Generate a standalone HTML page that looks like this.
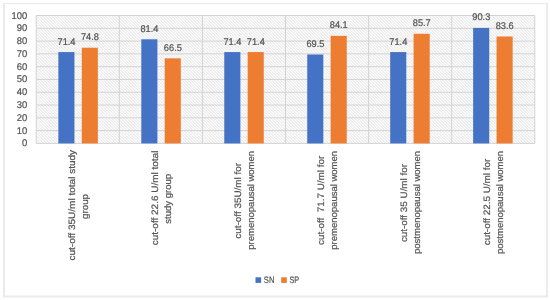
<!DOCTYPE html>
<html lang="en"><head><meta charset="utf-8"><title>Sensitivity and specificity by cut-off</title>
<style>html,body{margin:0;padding:0;background:#fff;}body{width:550px;height:300px;overflow:hidden;}svg{display:block;}text{font-family:"Liberation Sans",sans-serif;fill:#555555;stroke:#555555;stroke-width:0.22px;text-rendering:geometricPrecision;}</style></head><body>
<svg width="550" height="300" viewBox="0 0 550 300">
<defs><pattern id="hatch" patternUnits="userSpaceOnUse" x="36.50" y="16.00" width="3" height="3"><path d="M-1 -1L4 4M-4 -1L1 4M2 -1L7 4" stroke="#DEDEDE" stroke-width="1.0" fill="none"/></pattern></defs>
<rect x="0" y="0" width="550" height="300" fill="#fff"/>
<path d="M3 2.9H548V297.6H3ZM5 4.1V295.6H546.2V4.1Z" fill="#EAEAEA" fill-rule="evenodd"/>
<rect x="36.20" y="15.50" width="498.60" height="127.90" fill="url(#hatch)"/>
<line x1="36.20" x2="534.80" y1="143.40" y2="143.40" stroke="#D3D3D3" stroke-width="1.0"/>
<line x1="36.20" x2="534.80" y1="130.61" y2="130.61" stroke="#D3D3D3" stroke-width="1.0"/>
<line x1="36.20" x2="534.80" y1="117.82" y2="117.82" stroke="#D3D3D3" stroke-width="1.0"/>
<line x1="36.20" x2="534.80" y1="105.03" y2="105.03" stroke="#D3D3D3" stroke-width="1.0"/>
<line x1="36.20" x2="534.80" y1="92.24" y2="92.24" stroke="#D3D3D3" stroke-width="1.0"/>
<line x1="36.20" x2="534.80" y1="79.45" y2="79.45" stroke="#D3D3D3" stroke-width="1.0"/>
<line x1="36.20" x2="534.80" y1="66.66" y2="66.66" stroke="#D3D3D3" stroke-width="1.0"/>
<line x1="36.20" x2="534.80" y1="53.87" y2="53.87" stroke="#D3D3D3" stroke-width="1.0"/>
<line x1="36.20" x2="534.80" y1="41.08" y2="41.08" stroke="#D3D3D3" stroke-width="1.0"/>
<line x1="36.20" x2="534.80" y1="28.29" y2="28.29" stroke="#D3D3D3" stroke-width="1.0"/>
<line x1="36.20" x2="534.80" y1="15.50" y2="15.50" stroke="#D3D3D3" stroke-width="1.0"/>
<line x1="36.20" x2="36.20" y1="15.50" y2="143.40" stroke="#D3D3D3" stroke-width="1.0"/>
<line x1="119.30" x2="119.30" y1="15.50" y2="143.40" stroke="#D3D3D3" stroke-width="1.0"/>
<line x1="202.40" x2="202.40" y1="15.50" y2="143.40" stroke="#D3D3D3" stroke-width="1.0"/>
<line x1="285.50" x2="285.50" y1="15.50" y2="143.40" stroke="#D3D3D3" stroke-width="1.0"/>
<line x1="368.60" x2="368.60" y1="15.50" y2="143.40" stroke="#D3D3D3" stroke-width="1.0"/>
<line x1="451.70" x2="451.70" y1="15.50" y2="143.40" stroke="#D3D3D3" stroke-width="1.0"/>
<line x1="534.80" x2="534.80" y1="15.50" y2="143.40" stroke="#D3D3D3" stroke-width="1.0"/>
<text x="27.3" y="146.40" font-size="9.7" text-anchor="end" textLength="5.3" lengthAdjust="spacingAndGlyphs">0</text>
<text x="27.3" y="133.61" font-size="9.7" text-anchor="end" textLength="10.5" lengthAdjust="spacingAndGlyphs">10</text>
<text x="27.3" y="120.82" font-size="9.7" text-anchor="end" textLength="10.5" lengthAdjust="spacingAndGlyphs">20</text>
<text x="27.3" y="108.03" font-size="9.7" text-anchor="end" textLength="10.5" lengthAdjust="spacingAndGlyphs">30</text>
<text x="27.3" y="95.24" font-size="9.7" text-anchor="end" textLength="10.5" lengthAdjust="spacingAndGlyphs">40</text>
<text x="27.3" y="82.45" font-size="9.7" text-anchor="end" textLength="10.5" lengthAdjust="spacingAndGlyphs">50</text>
<text x="27.3" y="69.66" font-size="9.7" text-anchor="end" textLength="10.5" lengthAdjust="spacingAndGlyphs">60</text>
<text x="27.3" y="56.87" font-size="9.7" text-anchor="end" textLength="10.5" lengthAdjust="spacingAndGlyphs">70</text>
<text x="27.3" y="44.08" font-size="9.7" text-anchor="end" textLength="10.5" lengthAdjust="spacingAndGlyphs">80</text>
<text x="27.3" y="31.29" font-size="9.7" text-anchor="end" textLength="10.5" lengthAdjust="spacingAndGlyphs">90</text>
<text x="27.3" y="18.50" font-size="9.7" text-anchor="end" textLength="15.7" lengthAdjust="spacingAndGlyphs">100</text>
<rect x="58.35" y="52.08" width="16.10" height="91.32" fill="#4472C4"/>
<rect x="81.75" y="47.73" width="16.10" height="95.67" fill="#ED7D31"/>
<text x="66.50" y="44.58" font-size="9.7" text-anchor="middle" textLength="18.0" lengthAdjust="spacingAndGlyphs">71.4</text>
<text x="89.90" y="40.23" font-size="9.7" text-anchor="middle" textLength="18.0" lengthAdjust="spacingAndGlyphs">74.8</text>
<rect x="141.31" y="39.29" width="16.10" height="104.11" fill="#4472C4"/>
<rect x="164.71" y="58.35" width="16.10" height="85.05" fill="#ED7D31"/>
<text x="149.46" y="31.79" font-size="9.7" text-anchor="middle" textLength="18.0" lengthAdjust="spacingAndGlyphs">81.4</text>
<text x="172.86" y="50.85" font-size="9.7" text-anchor="middle" textLength="18.0" lengthAdjust="spacingAndGlyphs">66.5</text>
<rect x="224.27" y="52.08" width="16.10" height="91.32" fill="#4472C4"/>
<rect x="247.67" y="52.08" width="16.10" height="91.32" fill="#ED7D31"/>
<text x="232.42" y="44.58" font-size="9.7" text-anchor="middle" textLength="18.0" lengthAdjust="spacingAndGlyphs">71.4</text>
<text x="255.82" y="44.58" font-size="9.7" text-anchor="middle" textLength="18.0" lengthAdjust="spacingAndGlyphs">71.4</text>
<rect x="307.23" y="54.51" width="16.10" height="88.89" fill="#4472C4"/>
<rect x="330.63" y="35.84" width="16.10" height="107.56" fill="#ED7D31"/>
<text x="315.38" y="47.01" font-size="9.7" text-anchor="middle" textLength="18.0" lengthAdjust="spacingAndGlyphs">69.5</text>
<text x="338.78" y="28.34" font-size="9.7" text-anchor="middle" textLength="18.0" lengthAdjust="spacingAndGlyphs">84.1</text>
<rect x="390.19" y="52.08" width="16.10" height="91.32" fill="#4472C4"/>
<rect x="413.59" y="33.79" width="16.10" height="109.61" fill="#ED7D31"/>
<text x="398.34" y="44.58" font-size="9.7" text-anchor="middle" textLength="18.0" lengthAdjust="spacingAndGlyphs">71.4</text>
<text x="421.74" y="26.29" font-size="9.7" text-anchor="middle" textLength="18.0" lengthAdjust="spacingAndGlyphs">85.7</text>
<rect x="473.15" y="27.91" width="16.10" height="115.49" fill="#4472C4"/>
<rect x="496.55" y="36.48" width="16.10" height="106.92" fill="#ED7D31"/>
<text x="481.30" y="20.41" font-size="9.7" text-anchor="middle" textLength="18.0" lengthAdjust="spacingAndGlyphs">90.3</text>
<text x="504.70" y="28.98" font-size="9.7" text-anchor="middle" textLength="18.0" lengthAdjust="spacingAndGlyphs">83.6</text>
<text transform="translate(75.35 260.50) rotate(-90)" font-size="9.3" fill="#5A5A5A" stroke="#5A5A5A" stroke-width="0.05" textLength="110.6" lengthAdjust="spacingAndGlyphs">cut-off 35U/ml total study</text>
<text transform="translate(88.20 219.00) rotate(-90)" font-size="9.3" fill="#5A5A5A" stroke="#5A5A5A" stroke-width="0.05" textLength="25.0" lengthAdjust="spacingAndGlyphs">group</text>
<text transform="translate(158.31 245.30) rotate(-90)" font-size="9.3" fill="#5A5A5A" stroke="#5A5A5A" stroke-width="0.05" textLength="94.7" lengthAdjust="spacingAndGlyphs">cut-off 22.6 U/ml total</text>
<text transform="translate(171.16 223.70) rotate(-90)" font-size="9.3" fill="#5A5A5A" stroke="#5A5A5A" stroke-width="0.05" textLength="49.8" lengthAdjust="spacingAndGlyphs">study group</text>
<text transform="translate(241.27 238.70) rotate(-90)" font-size="9.3" fill="#5A5A5A" stroke="#5A5A5A" stroke-width="0.05" textLength="75.8" lengthAdjust="spacingAndGlyphs">cut-off 35U/ml for</text>
<text transform="translate(254.12 249.70) rotate(-90)" font-size="9.3" fill="#5A5A5A" stroke="#5A5A5A" stroke-width="0.05" textLength="98.8" lengthAdjust="spacingAndGlyphs">premenopausal women</text>
<text transform="translate(324.23 244.90) rotate(-90)" font-size="9.3" fill="#5A5A5A" stroke="#5A5A5A" stroke-width="0.05" textLength="89.1" lengthAdjust="spacingAndGlyphs">cut-off  71.7 U/ml for</text>
<text transform="translate(337.08 249.70) rotate(-90)" font-size="9.3" fill="#5A5A5A" stroke="#5A5A5A" stroke-width="0.05" textLength="98.8" lengthAdjust="spacingAndGlyphs">premenopausal women</text>
<text transform="translate(407.19 242.10) rotate(-90)" font-size="9.3" fill="#5A5A5A" stroke="#5A5A5A" stroke-width="0.05" textLength="78.1" lengthAdjust="spacingAndGlyphs">cut-off 35 U/ml for</text>
<text transform="translate(420.04 254.00) rotate(-90)" font-size="9.3" fill="#5A5A5A" stroke="#5A5A5A" stroke-width="0.05" textLength="103.1" lengthAdjust="spacingAndGlyphs">postmenopausal women</text>
<text transform="translate(490.15 245.30) rotate(-90)" font-size="9.3" fill="#5A5A5A" stroke="#5A5A5A" stroke-width="0.05" textLength="86.5" lengthAdjust="spacingAndGlyphs">cut-off 22.5 U/ml for</text>
<text transform="translate(503.00 254.00) rotate(-90)" font-size="9.3" fill="#5A5A5A" stroke="#5A5A5A" stroke-width="0.05" textLength="103.1" lengthAdjust="spacingAndGlyphs">postmenopausal women</text>
<rect x="255.5" y="277.3" width="5.6" height="5.6" fill="#4472C4"/>
<text x="263.8" y="282.8" font-size="9.3" textLength="10.6" lengthAdjust="spacingAndGlyphs">SN</text>
<rect x="281.2" y="277.3" width="5.6" height="5.6" fill="#ED7D31"/>
<text x="289.5" y="282.8" font-size="9.3" textLength="9.6" lengthAdjust="spacingAndGlyphs">SP</text>
</svg></body></html>
